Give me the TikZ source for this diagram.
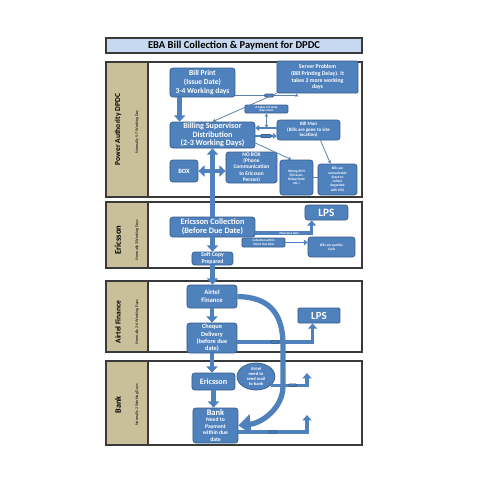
\documentclass[tikz,border=0pt]{standalone}
\usepackage{fontspec}
\setmainfont{Carlito}
\usetikzlibrary{arrows.meta,shapes.geometric,calc}
\newdimen\pxu \pxu=0.02cm
\newcommand\fsz[2]{\fontsize{#1pt}{#2pt}\selectfont}
\definecolor{nb}{HTML}{4F81BD}
\definecolor{nbd}{HTML}{385D8A}
\definecolor{lanetan}{HTML}{C9C09A}
\definecolor{ttlfill}{HTML}{C6D9F1}
\definecolor{laneline}{HTML}{3A3A3A}
\begin{document}
\begin{tikzpicture}[x=0.02cm,y=-0.02cm,
  nd/.style={draw=nbd, fill=nb, text=white, align=center, inner sep=0pt,
    rounded corners=1.6pt, line width=0.4pt},
  sq/.style={nd, rounded corners=0.6pt},
  sz/.style 2 args={minimum width=#1*\pxu, minimum height=#2*\pxu},
  lane/.style={draw=laneline, line width=0.8pt},
  lanemain/.style={rotate=90, font=\fsz{#1}{#1}\bfseries, text=black},
  lanesub/.style={rotate=90, font=\fsz{2.3}{2.5}, text=black},
  barrow/.style={draw=nb, line width=2.6pt, -{Triangle[length=3.6pt, width=6.4pt]}},
  barrowboth/.style={draw=nb, line width=2.6pt, {Triangle[length=3.6pt, width=6.4pt]}-{Triangle[length=3.6pt, width=6.4pt]}},
  marrow/.style={draw=nb, line width=1.8pt, -{Triangle[length=3pt, width=5pt]}},
  sarrow/.style={draw=nb, line width=1pt, -{Triangle[length=2.2pt, width=3.4pt]}},
  thinl/.style={draw=nb!70!gray, line width=0.45pt, -{Stealth[length=2pt, width=2pt]}},
  tinylab/.style={font=\fsz{1.7}{1.9}\bfseries, text=white, align=center, inner sep=0.3pt},
  bigarrow/.style={draw=nb, line width=3pt, -{Triangle[length=7pt, width=11pt]}}
]
\useasboundingbox[fill=white] (0,0) rectangle (495,495);

% title
\node[draw=laneline, fill=ttlfill, line width=0.8pt, sz={256}{15}, inner sep=0pt,
  font=\fsz{6}{6.5}\bfseries] (title) at (234,45.5) {EBA Bill Collection \& Payment for DPDC};

% lanes
\foreach \t/\b/\n in {62/197/a, 202/268/b, 281/352/c, 361/445/d}{
  \fill[lanetan] (106,\t) rectangle (148,\b);
  \draw[lane] (106,\t) rectangle (362,\b);
  \draw[lane] (148,\t) -- (148,\b);
}
\node[lanemain=4.3] (la1) at (118,129.5) {Power Authority DPDC};
\node[lanesub] (lb1) at (137,132) {Normally 5-7 Working Day};
\node[lanemain=4.9] (la2) at (118,240) {Ericsson};
\node[lanesub] (lb2) at (137,240) {Normally 2Working Days};
\node[lanemain=4.3] (la3) at (118,322) {Airtel Finance};
\node[lanesub] (lb3) at (137,322) {Normally 2-4 Working Days};
\node[lanemain=4.7] (la4) at (118,405) {Bank};
\node[lanesub] (lb4) at (137,405) {Normally 2 Working Days};

% lane 1 nodes
\node[nd, sz={65}{29}, font=\fsz{4.3}{5}\bfseries] (billprint) at (202.5,82.5) {Bill Print\\(Issue Date)\\3-4 Working days};
\node[sq, sz={81}{32}, font=\fsz{3.3}{3.9}\bfseries] (server) at (317.5,77) {Server Problem\\(Bill Printing Delay). It\\takes 2 more working\\days};
\node[sq, sz={43}{8}, font=\fsz{1.8}{2}\bfseries] (lab7) at (266.5,109) {It takes 7-8 work\\days more};
\node[nd, sz={85}{26}, font=\fsz{4.6}{5}\bfseries] (billsup) at (212.5,135) {Billing Supervisor\\Distribution\\(2-3 Working Days)};
\node[nd, sz={63}{20}, font=\fsz{2.8}{3.2}\bfseries] (billman) at (308.5,130) {Bill Man\\(Bills are gone to site\\location)};
\node[nd, sz={28}{22}, font=\fsz{3.7}{4}\bfseries] (box) at (184,171) {BOX};
\node[nd, sz={51}{31}, font=\fsz{3.1}{3.6}\bfseries] (nobox) at (251.5,167.5) {NO BOX\\(Phone\\Communication\\to Ericsson\\Person)};
\node[nd, sz={33}{35}, font=\fsz{2}{2.4}\bfseries] (wrongrcn) at (296.5,177.5) {Wrong RCN\\(Ericsson,\\Helps/Note\\etc.)};
\node[nd, sz={39}{31}, font=\fsz{2}{2.4}\bfseries] (unreach) at (337.5,179.5) {Bills are\\unreachable\\(have to\\collect\\Regorded\\with LPS)};

% lane 2 nodes
\node[nd, sz={43}{15}, font=\fsz{6.4}{7}\bfseries] (lps1) at (326.5,212.5) {LPS};
\node[nd, sz={85}{20}, font=\fsz{4.7}{5.2}\bfseries] (ericol) at (212.5,227) {Ericsson Collection\\(Before Due Date)};
\node[sq, sz={43}{9}, font=\fsz{1.8}{2}\bfseries] (colllab) at (263.5,242.5) {Collection within\\/Short Due Date};
\node[nd, sz={47}{20}, font=\fsz{2}{2.4}\bfseries] (cash) at (331.5,247) {Bills are paid by\\Cash};
\node[nd, sz={41}{13}, font=\fsz{3.3}{3.8}\bfseries] (softcopy) at (212.5,258.5) {Soft Copy\\Prepared};

% lane 3 nodes
\node[nd, sz={50}{23}, font=\fsz{3.8}{4.4}\bfseries] (airtel) at (212,296.5) {Airtel\\Finance};
\node[nd, sz={50}{30}, font=\fsz{3.6}{4.2}\bfseries] (cheque) at (212,338) {Cheque\\Delivery\\(before due\\date)};
\node[sq, sz={42}{15}, font=\fsz{6.2}{7}\bfseries] (lps2) at (319,315.5) {LPS};

% lane 4 nodes
\node[nd, sz={43}{17}, font=\fsz{4.6}{5}\bfseries] (ericsson) at (213.5,381.5) {Ericsson};
\node[ellipse, draw=nbd, fill=nb, text=white, align=center, inner sep=0pt, line width=0.4pt,
  sz={38}{27}, font=\fsz{2.6}{3}\bfseries] (oval) at (256,376.5) {Airtel\\need to\\send mail\\to bank};
\node[nd, sz={45}{35}, font=\fsz{3.2}{3.7}\bfseries] (bank) at (215.5,425.5) {{\fsz{4.8}{5.2}Bank}\\Need to\\Payment\\within due\\date};

% --- connectors lane 1
\coordinate (bp1) at ($(billprint.south west)+(10,0)$);
\draw[barrow] (bp1) -- (bp1 |- billsup.north);
\coordinate (bpx) at ($(billprint.east)+(0,13)$);
\coordinate (sv2) at ($(server.south west)+(20,0)$);
\draw[thinl] (bpx) -| (sv2);
\node[sq, sz={9}{3}] (svlab) at ($(bpx)!0.55!(bpx -| sv2)$) {};
\draw[thinl] (server.south west) -- (billsup.north);
\coordinate (bm1) at ($(billman.west)+(0,-2)$);
\draw[sarrow] (bm1) -- (bm1 -| billsup.east);
\coordinate (bs1) at ($(billsup.east)+(0,1)$);
\draw[sarrow] (bs1) -- (bs1 -| billman.west);
\node[sq, sz={11}{3}] (bslab) at ($(bs1)!0.5!(bs1 -| billman.west)$) {};
\draw[thinl, {Stealth[length=2pt, width=2pt]}-{Stealth[length=2pt, width=2pt]}] (lab7.south) -- (lab7.south |- bm1);
\coordinate (bs2) at ($(billsup.east)+(0,8)$);
\draw[thinl] (bs2) -- ($(wrongrcn.north)+(-5,0)$);
\draw[thinl] ($(billman.south)+(12,0)$) -- ($(unreach.north)+(-7,0)$);
\draw[draw=nb!70!gray, line width=0.45pt] (wrongrcn.east) -- (wrongrcn.east -| unreach.west);
\draw[barrowboth] (box.east) -- (box.east -| nobox.west) node[midway, tinylab] (yes) {Yes};
\draw[barrow] (ericol.north) -- (billsup.south);

% --- connectors lane 2
\coordinate (ec1) at ($(ericol.east)+(0,6)$);
\coordinate (l1s) at ($(lps1.south west)+(7,0)$);
\draw[marrow] (ec1) -| (l1s) node[pos=0.3, tinylab] (whendue) {When Due Date};
\draw[sarrow] (colllab.east) -- (colllab.east -| cash.west);
\draw[barrow] (ericol.south) -- (softcopy.north);
\draw[barrow] (softcopy.south) -- (softcopy.south |- airtel.north);

% --- connectors lane 3
\draw[barrow] (airtel.south) -- (airtel.south |- cheque.north);
\coordinate (cq1) at ($(cheque.east)+(0,4)$);
\coordinate (l2s) at ($(lps2.south west)+(15,0)$);
\draw[marrow] (cq1) -| (l2s);
\node[sq, sz={8}{2.5}] (cqlab) at ($(cq1)!0.5!(cq1 -| l2s)$) {};
\draw[barrow] (cheque.south) -- (cheque.south |- ericsson.north);
\draw[bigarrow] (airtel.east) .. controls (268,297) and (283,312) .. (283,345) -- (283,386) .. controls (283,408) and (262,423) .. (bank.east);

% --- connectors lane 4
\draw[barrow] (ericsson.south) -- (ericsson.south |- bank.north);
\coordinate (ovup) at (307,373);
\draw[marrow] (oval.330) -| (ovup);
\node[sq, sz={8}{2.5}] (ovlab) at ($(oval.330)!0.6!(oval.330 -| ovup)$) {};
\coordinate (bk1) at ($(bank.east)+(0,6.5)$);
\coordinate (bkup) at (307,415);
\draw[marrow] (bk1) -| (bkup);
\node[sq, sz={8}{2.5}] (bklab) at ($(bk1)!0.5!(bk1 -| bkup)$) {};
\end{tikzpicture}
\end{document}
